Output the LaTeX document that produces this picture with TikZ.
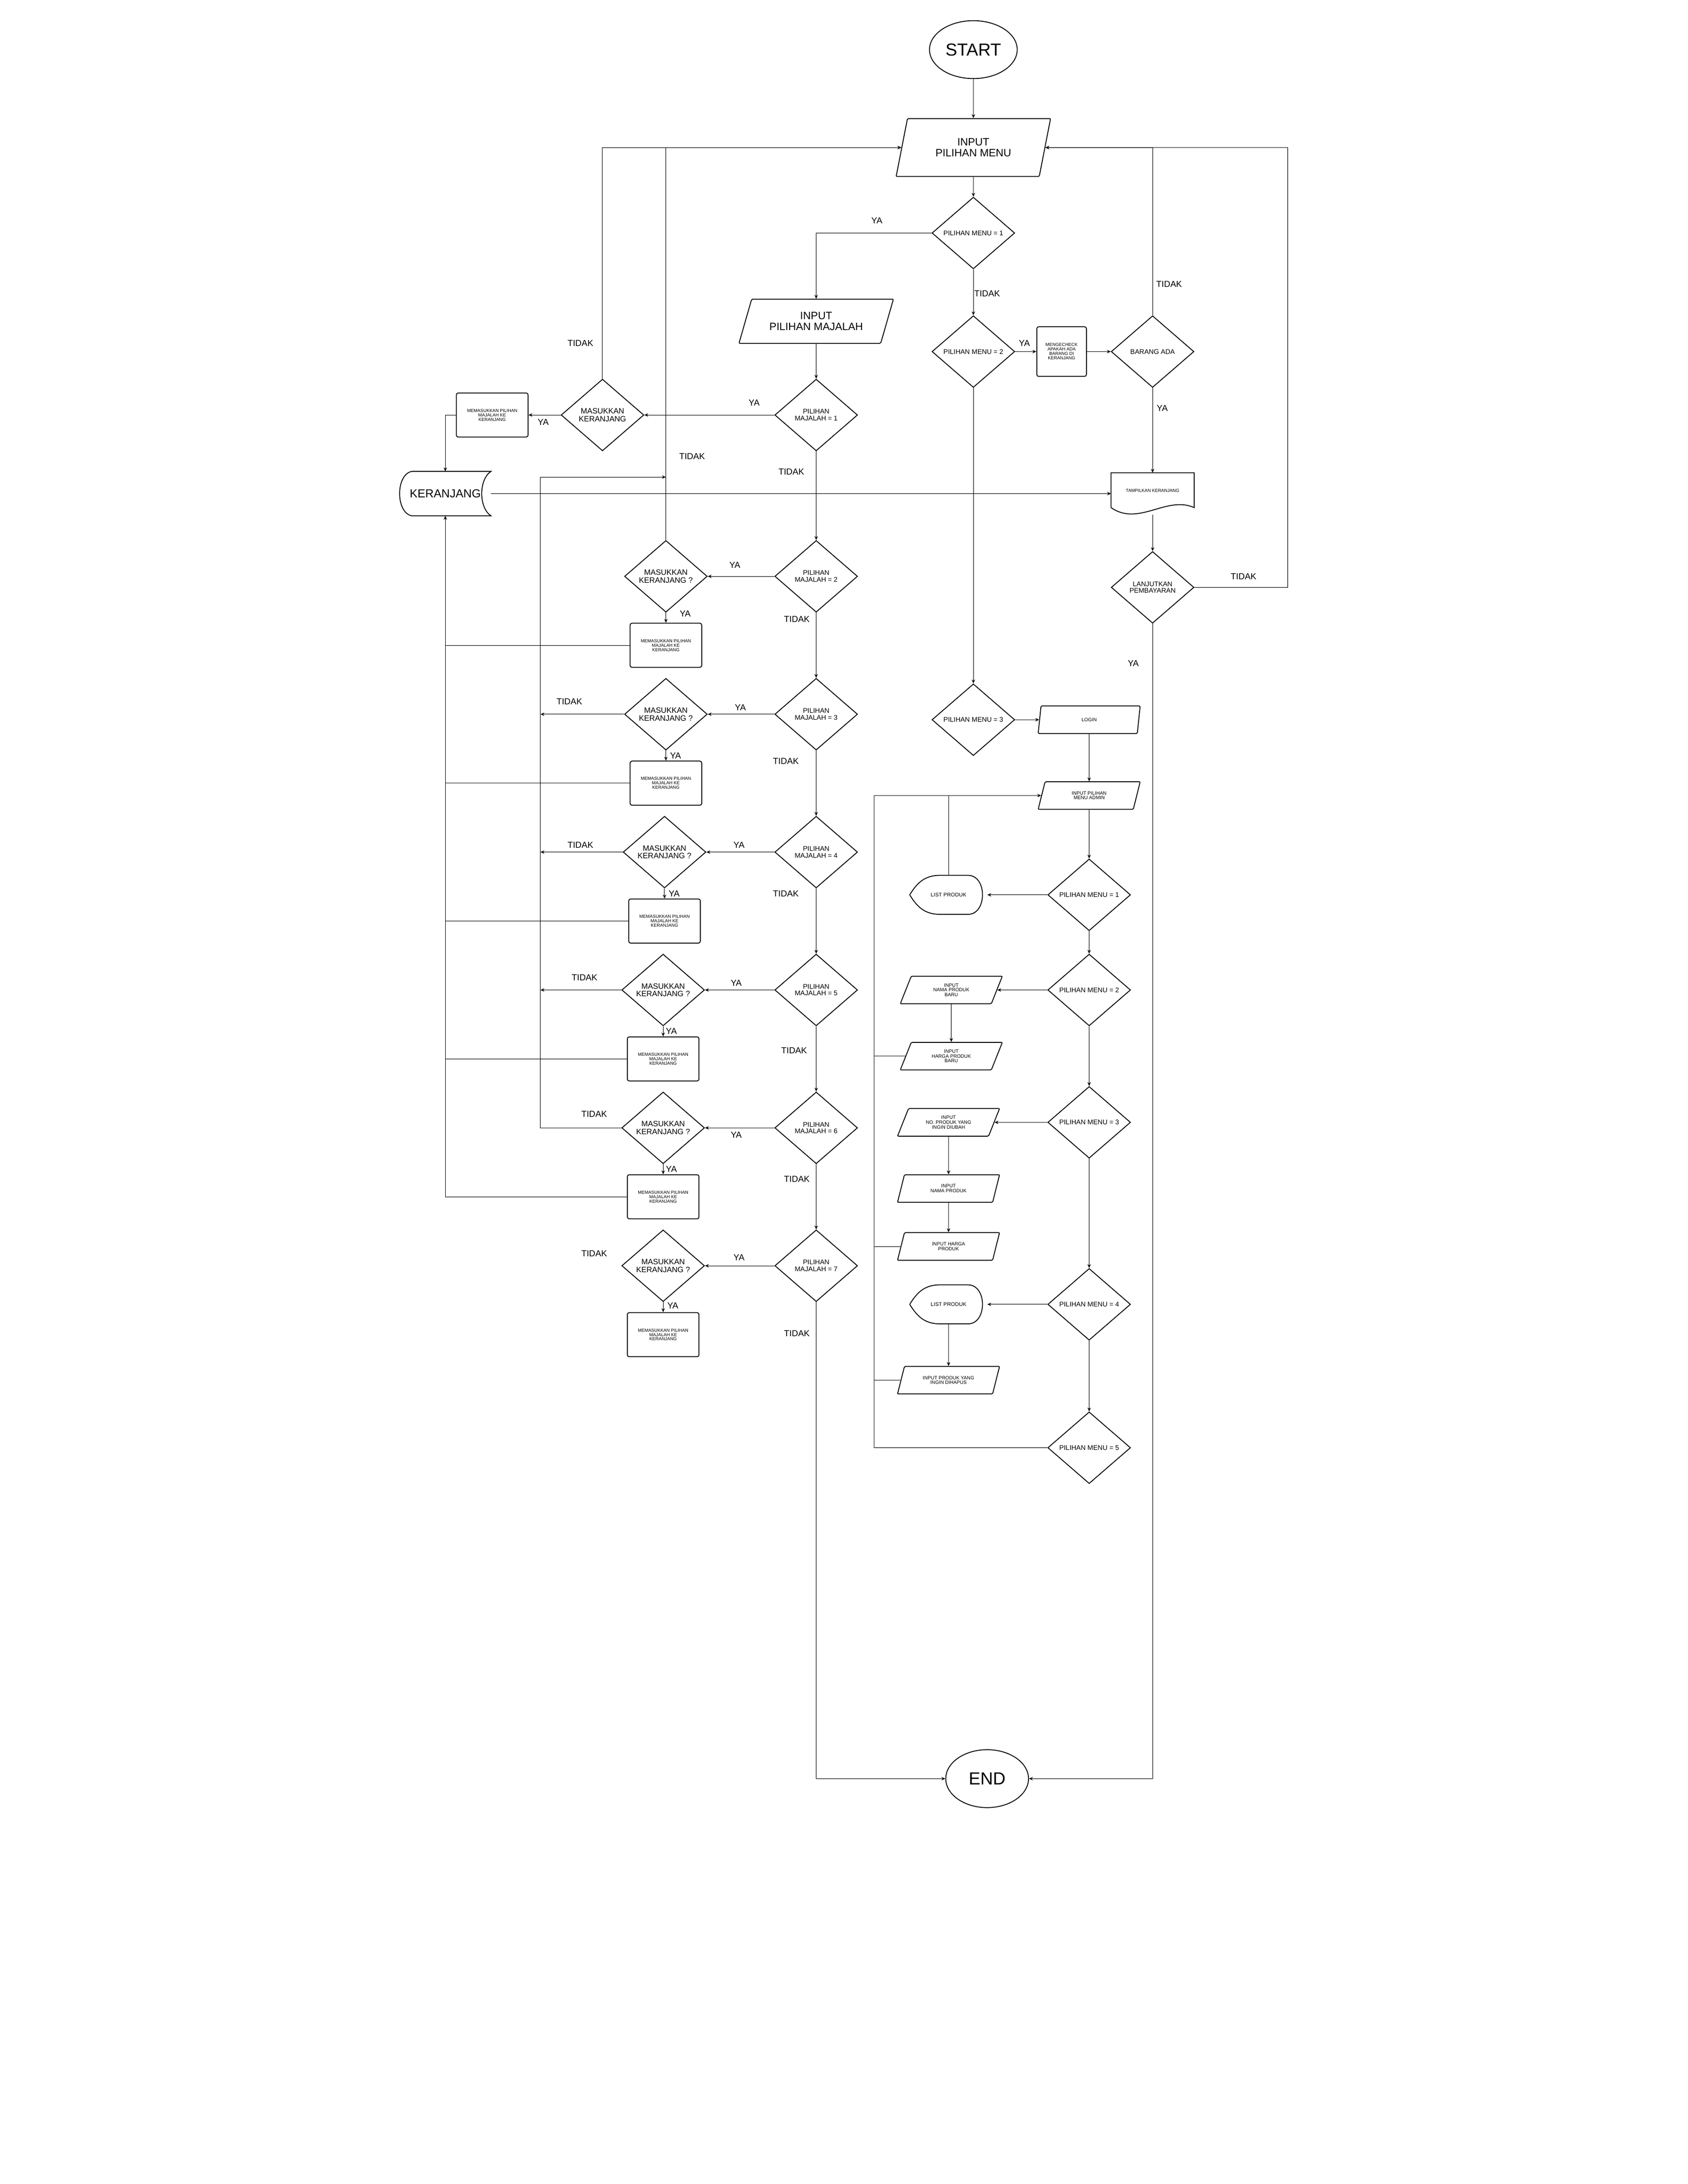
\documentclass[tikz,border=0pt]{standalone}
\usepackage{fontspec}
\setmainfont{Liberation Sans}
\usetikzlibrary{shapes.geometric,arrows.meta,calc}
\newcommand\fs[1]{\fontsize{#1}{#1}\selectfont}
\newcommand\dispshape[1]{\draw[shp] (#1.west) .. controls ($(#1.west)+(0.3cm,0.5cm)$) and ($(#1.north west)+(0.6cm,0)$) .. ($(#1.north west)+(1.1cm,0)$) -- ($(#1.north east)+(-0.7cm,0)$) .. controls (#1.north east) and (#1.south east) .. ($(#1.south east)+(-0.7cm,0)$) -- ($(#1.south west)+(1.1cm,0)$) .. controls ($(#1.south west)+(0.6cm,0)$) and ($(#1.west)+(0.3cm,-0.5cm)$) .. (#1.west);}
\tikzset{
 shp/.style={draw,line width=0.9pt},
 dia/.style={shp,diamond,minimum width=3cm,minimum height=2.6cm,inner sep=0pt,align=center,font=\fs{7}},
 para/.style={shp,trapezium,trapezium left angle=50,trapezium right angle=130,trapezium stretches body,inner sep=0pt,align=center,rounded corners=1pt},
 smallpara/.style={para,minimum width=3.7cm,minimum height=1cm,font=\fs{5}},
 box/.style={shp,rectangle,rounded corners=2pt,minimum width=2.6cm,minimum height=1.6cm,inner sep=0pt,align=center,font=\fs{4.6}},
 lbl/.style={font=\fs{9}},
 arr/.style={-{Stealth[length=4pt,width=3.5pt]},line width=0.5pt},
 ln/.style={line width=0.5pt},
}
\begin{document}
\begin{tikzpicture}[x=0.05cm,y=-0.05cm]
\useasboundingbox (0,0) rectangle (1224,1584);
% main column
\node[shp,ellipse,minimum width=3cm,minimum height=2.1cm,font=\fs{18}] (start) at (706,36) {START};
\node[para,trapezium left angle=58,trapezium right angle=122,minimum width=5.6cm,minimum height=2.1cm,font=\fs{11}] (inmenu) at (706,107) {INPUT\\PILIHAN MENU};
\node[dia] (m1) at (706,169) {PILIHAN MENU = 1};
\node[dia] (m2) at (706,255) {PILIHAN MENU = 2};
\node[dia] (m3) at (706,522) {PILIHAN MENU = 3};
\node[box,minimum width=1.8cm,minimum height=1.8cm] (cek) at (770,255) {MENGECHECK\\APAKAH ADA\\BARANG DI\\KERANJANG};
\node[dia] (ada) at (836,255) {BARANG ADA};
\node[minimum width=3cm,minimum height=1.5cm,inner sep=0pt] (tampil) at (836,358) {};
\node[font=\fs{4.6}] at (836,356) {TAMPILKAN KERANJANG};
\draw[shp] ($(tampil.south west)+(0,0.25cm)$) -- (tampil.north west) -- (tampil.north east) -- ($(tampil.south east)+(0,0.25cm)$) .. controls ($(tampil.south east)+(-1cm,0.7cm)$) and ($(tampil.south west)+(1cm,-0.45cm)$) .. ($(tampil.south west)+(0,0.25cm)$);
\node[dia] (lanjut) at (836,426) {LANJUTKAN\\PEMBAYARAN};
\node[shp,ellipse,minimum width=3cm,minimum height=2.1cm,font=\fs{18}] (end) at (716,1290) {END};
% admin
\node[smallpara] (login) at (790,522) {LOGIN};
\node[smallpara] (admin) at (790,577) {INPUT PILIHAN\\MENU ADMIN};
\node[dia] (a1) at (790,649) {PILIHAN MENU = 1};
\node[dia] (a2) at (790,718) {PILIHAN MENU = 2};
\node[dia] (a3) at (790,814) {PILIHAN MENU = 3};
\node[dia] (a4) at (790,946) {PILIHAN MENU = 4};
\node[dia] (a5) at (790,1050) {PILIHAN MENU = 5};
\node[minimum width=2.8cm,minimum height=1.4cm,inner sep=0pt,font=\fs{5.5}] (lp1) at (688,649) {LIST PRODUK};
\dispshape{lp1}
\node[minimum width=2.8cm,minimum height=1.4cm,inner sep=0pt,font=\fs{5.5}] (lp2) at (688,946) {LIST PRODUK};
\dispshape{lp2}
\node[smallpara] (nb) at (690,718) {INPUT\\NAMA PRODUK\\BARU};
\node[smallpara] (hb) at (690,766) {INPUT\\HARGA PRODUK\\BARU};
\node[smallpara] (no) at (688,814) {INPUT\\NO. PRODUK YANG\\INGIN DIUBAH};
\node[smallpara] (nm) at (688,862) {INPUT\\NAMA PRODUK};
\node[smallpara] (hp) at (688,904) {INPUT HARGA\\PRODUK};
\node[smallpara] (hap) at (688,1001) {INPUT PRODUK YANG\\INGIN DIHAPUS};
% left part
\node[para,trapezium left angle=55,trapezium right angle=125,minimum width=5.6cm,minimum height=1.6cm,font=\fs{11}] (inmaj) at (592,233) {INPUT\\PILIHAN MAJALAH};
\foreach \k/\y in {1/301,2/418,3/518,4/618,5/718,6/818,7/918}
  \node[dia] (j\k) at (592,\y) {PILIHAN\\MAJALAH = \k};
\node[dia,font=\fs{8}] (k1) at (437,301) {MASUKKAN\\KERANJANG};
\node[box] (b1) at (357,301) {MEMASUKKAN PILIHAN\\MAJALAH KE\\KERANJANG};
\foreach \k/\x/\y in {2/483/418,3/483/518,4/482/618,5/481/718,6/481/818,7/481/918}{
  \node[dia,font=\fs{8}] (q\k) at (\x,\y) {MASUKKAN\\KERANJANG ?};
  \node[box] (b\k) at (\x,\y+50) {MEMASUKKAN PILIHAN\\MAJALAH KE\\KERANJANG};
}
\node[minimum width=3.3cm,minimum height=1.6cm,inner sep=0pt,font=\fs{12}] (ker) at (323,358) {KERANJANG};
\draw[shp] ($(ker.north west)+(0.45cm,0)$) -- (ker.north east) .. controls ($(ker.north east)+(-0.45cm,-0.3cm)$) and ($(ker.south east)+(-0.45cm,0.3cm)$) .. (ker.south east) -- ($(ker.south west)+(0.45cm,0)$) .. controls ($(ker.south west)+(-0.15cm,0.1cm)$) and ($(ker.north west)+(-0.15cm,-0.1cm)$) .. ($(ker.north west)+(0.45cm,0)$);
% coordinates
\coordinate (rr) at (934,107);
\coordinate (lx) at (634,577);
\coordinate (tx) at (392,346);
\coordinate (tt) at (483,346);
% connectors main
\draw[arr] (start) -- (inmenu);
\draw[arr] (inmenu) -- (m1);
\draw[arr] (m1.west) -| (inmaj.north);
\draw[arr] (m1) -- (m2);
\draw[arr] (m2) -- (cek);
\draw[arr] (cek) -- (ada);
\draw[arr] (ada.north) |- (inmenu.east);
\draw[arr] (ada) -- (tampil.north);
\draw[arr] (tampil.south) -- (lanjut);
\draw[arr] (lanjut.east) -| (rr) -- (inmenu.east);
\draw[arr] (lanjut.south) |- (end.east);
\draw[arr] (m2) -- (m3);
\draw[arr] (m3) -- (login);
\draw[arr] (login) -- (admin);
\draw[arr] (admin) -- (a1);
\draw[arr] (a1) -- (a2);
\draw[arr] (a2) -- (a3);
\draw[arr] (a3) -- (a4);
\draw[arr] (a4) -- (a5);
\draw[arr] (a1) -- (lp1);
\draw[arr] (a2) -- (nb);
\draw[arr] (a3) -- (no);
\draw[arr] (a4) -- (lp2);
\draw[arr] (nb) -- (hb);
\draw[arr] (no) -- (nm);
\draw[arr] (nm) -- (hp);
\draw[arr] (lp2) -- (hap);
\draw[arr] (a5.west) -| (lx) -- (admin.west);
\draw[ln] (lp1.north) -- (lp1.north |- lx);
\draw[ln] (hb.west) -- (hb.west -| lx);
\draw[ln] (hp.west) -- (hp.west -| lx);
\draw[ln] (hap.west) -- (hap.west -| lx);
% left connectors
\draw[arr] (inmaj) -- (j1);
\foreach \a/\b in {1/2,2/3,3/4,4/5,5/6,6/7} \draw[arr] (j\a) -- (j\b);
\draw[arr] (j7.south) |- (end.west);
\draw[arr] (j1) -- (k1);
\draw[arr] (k1) -- (b1);
\draw[arr] (b1.west) -| (ker.north);
\draw[arr] (k1.north) |- (inmenu.west);
\draw[arr] (q2.north) |- (inmenu.west);
\foreach \k in {2,...,7} {\draw[arr] (j\k) -- (q\k); \draw[arr] (q\k) -- (b\k);}
\foreach \k in {2,...,5} \draw[ln] (b\k.west) -- (b\k.west -| ker.south);
\draw[arr] (b6.west) -| (ker.south);
\draw[arr] (q6.west) -| (tx) -- (tt);
\foreach \k in {3,4,5} \draw[arr] (q\k.west) -- (q\k.west -| tx);
\draw[arr] (ker.east) -- (tampil.west);
% labels
\foreach \x/\y/\t in {636/160/YA,716/213/TIDAK,743/249/YA,848/206/TIDAK,843/296/YA,902/418/TIDAK,822/481/YA,
 547/292/YA,394/306/YA,421/249/TIDAK,502/331/TIDAK,574/342/TIDAK,
 533/410/YA,537/513/YA,536/613/YA,534/713/YA,534/823/YA,536/912/YA,
 578/449/TIDAK,570/552/TIDAK,570/648/TIDAK,576/762/TIDAK,578/855/TIDAK,578/967/TIDAK,
 497/445/YA,490/548/YA,489/648/YA,487/748/YA,487/848/YA,488/947/YA,
 413/509/TIDAK,421/613/TIDAK,424/709/TIDAK,431/808/TIDAK,431/909/TIDAK}
 \node[lbl] at (\x,\y) {\t};
\end{tikzpicture}
\end{document}
